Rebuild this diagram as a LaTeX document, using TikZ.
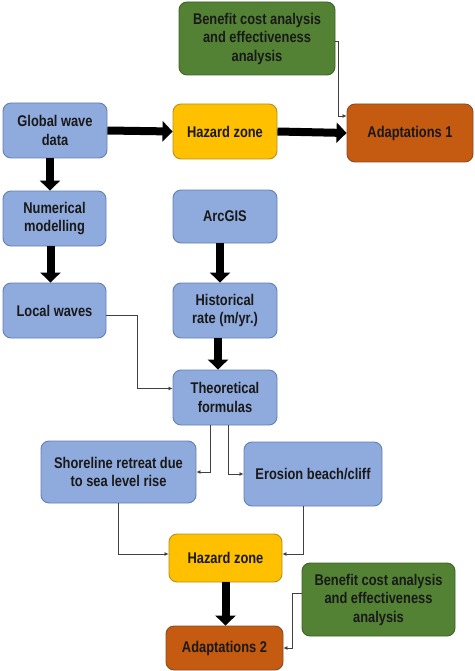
\documentclass[tikz,border=0pt]{standalone}
\usepackage{fontspec}
\setmainfont{Liberation Sans}[FakeStretch=0.83]
\usepackage{tikz}
\usetikzlibrary{arrows.meta, positioning, shapes}

\definecolor{boxblue}{HTML}{8FAADC}
\definecolor{lineblue}{HTML}{6380B4}
\definecolor{boxyellow}{HTML}{FFC000}
\definecolor{lineyellow}{HTML}{B8901A}
\definecolor{boxorange}{HTML}{C55A11}
\definecolor{lineorange}{HTML}{8A4A22}
\definecolor{boxgreen}{HTML}{548235}
\definecolor{linegreen}{HTML}{3F6128}

\tikzset{
  box/.style={draw, line width=0.9pt, rounded corners=8pt, align=center,
    font=\fontsize{15.5}{18.5}\selectfont\bfseries, text=black!90, inner sep=2pt},
  bluebox/.style={box, fill=boxblue, draw=lineblue},
  yellowbox/.style={box, fill=boxyellow, draw=lineyellow},
  orangebox/.style={box, fill=boxorange, draw=lineorange},
  greenbox/.style={box, fill=boxgreen, draw=linegreen},
  bigarrow/.style={line width=8pt, -{Triangle[length=10pt, width=20pt]}},
  thinarrow/.style={draw=black!75, line width=0.7pt, -{Latex[length=4pt, width=4pt]}}
}

\begin{document}
\begin{tikzpicture}[x=1pt, y=-1pt]
    \useasboundingbox (0,0) rectangle (474,671);

    % top row
    \node [greenbox, minimum width=156pt, minimum height=73pt] (ben1) at (257,38.5) {Benefit cost analysis\\and effectiveness\\analysis};
    \node [bluebox, minimum width=104pt, minimum height=55pt] (glob) at (55,130.5) {Global wave\\data};
    \node [yellowbox, minimum width=104pt, minimum height=55pt] (haz1) at (225,131.5) {Hazard zone};
    \node [orangebox, minimum width=126pt, minimum height=58pt] (ada1) at (410,133) {Adaptations 1};

    % left and middle columns
    \node [bluebox, minimum width=103pt, minimum height=55pt] (num) at (54.5,218.5) {Numerical\\modelling};
    \node [bluebox, minimum width=104pt, minimum height=53pt] (arc) at (225,216.5) {ArcGIS};
    \node [bluebox, minimum width=103pt, minimum height=55pt] (loc) at (54.5,310.5) {Local waves};
    \node [bluebox, minimum width=104pt, minimum height=55pt] (his) at (225,310.5) {Historical\\rate (m/yr.)};
    \node [bluebox, minimum width=104pt, minimum height=55pt] (the) at (225,397.5) {Theoretical\\formulas};

    % lower part
    \node [bluebox, minimum width=155pt, minimum height=62pt] (sho) at (118.5,472) {Shoreline retreat due\\to sea level rise};
    \node [bluebox, minimum width=138pt, minimum height=64pt] (ero) at (313,474) {Erosion beach/cliff};
    \node [yellowbox, minimum width=113pt, minimum height=48pt] (haz2) at (225.5,558) {Hazard zone};
    \node [greenbox, minimum width=153pt, minimum height=73pt] (ben2) at (378.5,599.5) {Benefit cost analysis\\and effectiveness\\analysis};
    \node [orangebox, minimum width=117pt, minimum height=44pt] (ada2) at (224.5,648) {Adaptations 2};

    % thick arrows
    \draw [bigarrow] (glob.east) -- (haz1.west);
    \draw [bigarrow] (haz1.east) -- (ada1.west);
    \draw [bigarrow] ([xshift=-5pt]glob.south) -- ([xshift=-5pt]glob.south |- num.north);
    \draw [bigarrow] ([xshift=-4pt]num.south) -- ([xshift=-4pt]loc.north);
    \draw [bigarrow] ([xshift=-5pt]arc.south) -- ([xshift=-5pt]his.north);
    \draw [bigarrow] ([xshift=-7pt]his.south) -- ([xshift=-7pt]the.north);
    \draw [bigarrow] (haz2.south) -- (haz2.south |- ada2.north);

    % thin connectors
    \draw [thinarrow] ([yshift=-3pt]ben1.east) -- ++(3,0) |- ([yshift=17pt]ada1.west);
    \draw [thinarrow] ([yshift=-5pt]loc.east) -- ++(31,0) |- ([yshift=9pt]the.west);
    \draw [thinarrow] ([xshift=-15pt]the.south) |- (sho.east);
    \draw [thinarrow] ([xshift=3pt]the.south) |- (ero.west);
    \draw [thinarrow] (sho.south) |- ([yshift=4pt]haz2.west);
    \draw [thinarrow] ([xshift=-10pt]ero.south) |- ([yshift=4pt]haz2.east);
    \draw [thinarrow] ([yshift=6pt]ben2.west) -- ++(-9,0) |- (ada2.east);
  \end{tikzpicture}
\end{document}
